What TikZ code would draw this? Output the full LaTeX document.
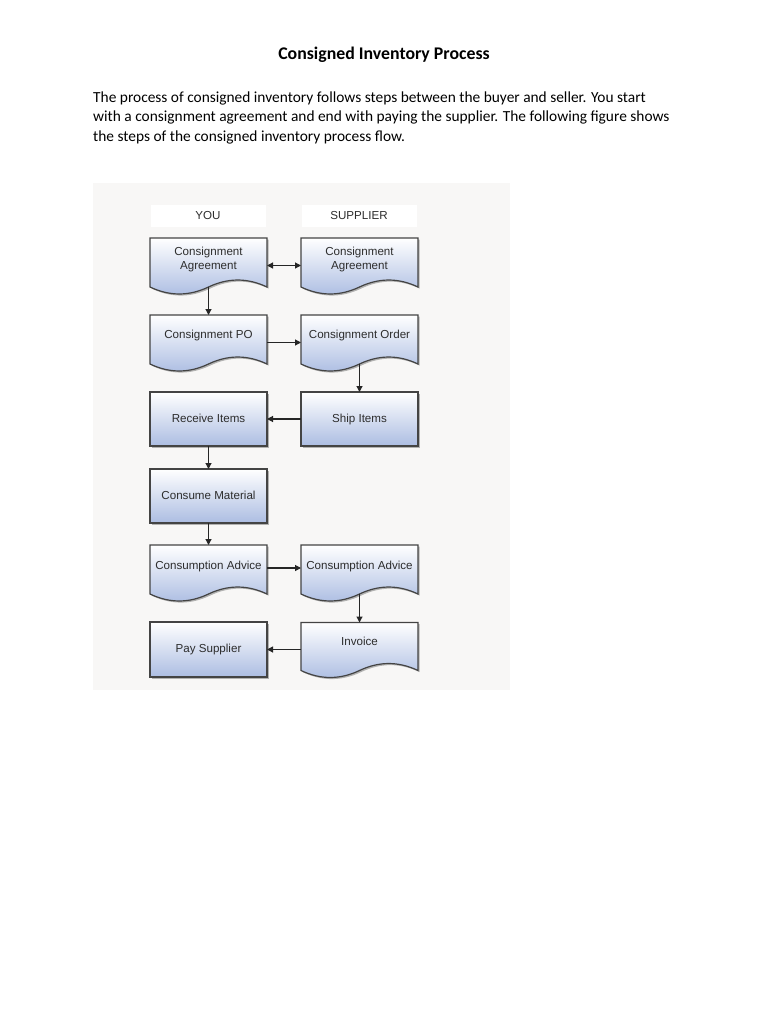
\documentclass[tikz,border=0pt]{standalone}
\usepackage{fontspec}
\setmainfont{Carlito}
\newfontfamily\arialfont{Liberation Sans}
\usetikzlibrary{arrows.meta,calc}
\definecolor{bgray}{RGB}{248,247,246}
\definecolor{edge}{RGB}{68,68,68}
\definecolor{docblue}{RGB}{172,189,226}
\definecolor{txt}{RGB}{45,45,45}
\newcommand\docpath[1]{(#1.north west) -- (#1.north east) -- (#1.south east)
  .. controls ($(#1.south east)+(-19.5,-9.3)$) and ($(#1.south east)+(-39,-9.3)$) .. ($(#1.south east)+(-58.5,0)$)
  .. controls ($(#1.south east)+(-78,9.3)$) and ($(#1.south east)+(-97.5,9.3)$) .. (#1.south west) -- cycle}
\newcommand\rectpath[1]{(#1.north west) -- (#1.north east) -- (#1.south east) -- (#1.south west) -- cycle}
\tikzset{
  shadowstyle/.style={fill=black, opacity=0.28, transform canvas={xshift=1.6pt,yshift=-1.6pt}},
  boxshade/.style={top color=white, bottom color=docblue},
  boxedge/.style={draw=edge, line width=1.2pt, line join=miter},
  shapebox/.style={minimum width=117, minimum height=#1, inner sep=0, outer sep=0,
    font=\arialfont\fontsize{11.6}{13.3}\selectfont, text=txt, align=center},
  label/.style={inner sep=0, outer sep=0, text height=8.5, text depth=2.5,
    font=\arialfont\fontsize{11.6}{13.3}\selectfont, text=txt, align=center},
  label2/.style={inner sep=0, outer sep=0,
    font=\arialfont\fontsize{11.6}{13.3}\selectfont, text=txt, align=center},
  header/.style={fill=white, minimum width=115, minimum height=22, inner sep=0,
    font=\arialfont\fontsize{11.6}{13.3}\selectfont, text=txt},
  flow/.style={draw=black!85, line width=1.1pt, -{Triangle[length=6,width=6]}},
  bothflow/.style={draw=black!85, line width=1.1pt, {Triangle[length=6,width=6]}-{Triangle[length=6,width=6]}},
  bodytext/.style={anchor=base west, inner sep=0, font=\fontsize{15.4}{18}\selectfont}
}
\newcommand\drawdoc[1]{%
  \fill[shadowstyle] \docpath{#1};
  \shade[boxshade] \docpath{#1};
  \draw[boxedge] \docpath{#1};}
\newcommand\drawrect[1]{%
  \fill[shadowstyle] \rectpath{#1};
  \shade[boxshade] \rectpath{#1};
  \draw[boxedge] \rectpath{#1};}
\begin{document}
\begin{tikzpicture}[x=1pt,y=-1pt]
\useasboundingbox (0,0) rectangle (768,1024);
\fill[white] (0,0) rectangle (768,1024);
% text
\node[anchor=base, inner sep=0, font=\bfseries\fontsize{17.8}{20}\selectfont] (title) at (384,60) {Consigned Inventory Process};
\node[bodytext] (l1) at (93,102.5) {The process of consigned inventory follows steps between the buyer and seller. You start};
\node[bodytext] (l2) at (93,122) {with a consignment agreement and end with paying the supplier. The following figure shows};
\node[bodytext] (l3) at (93,141.5) {the steps of the consigned inventory process flow.};
% diagram background
\fill[bgray] (93,183) rectangle (510,690);
\node[header] (you) at (208,216) {YOU};
\node[header] (sup) at (359,216) {SUPPLIER};
% shape nodes
\node[shapebox=49] (a1) at (208.5,262.5) {};
\node[shapebox=49] (a2) at (359.5,262.5) {};
\node[shapebox=49] (po) at (208.5,339.5) {};
\node[shapebox=49] (ord) at (359.5,339.5) {};
\node[shapebox=54] (rcv) at (208.5,419) {};
\node[shapebox=54] (ship) at (359.5,419) {};
\node[shapebox=54] (cons) at (208.5,496) {};
\node[shapebox=49] (ca1) at (208.5,569.5) {};
\node[shapebox=49] (ca2) at (359.5,569.5) {};
\node[shapebox=55] (pay) at (208.5,649.5) {};
\node[shapebox=48] (inv) at (359.5,646.5) {};
\drawdoc{a1}\drawdoc{a2}\drawdoc{po}\drawdoc{ord}
\drawrect{rcv}\drawrect{ship}\drawrect{cons}
\drawdoc{ca1}\drawdoc{ca2}\drawrect{pay}\drawdoc{inv}
% texts
\node[label2] (ta1) at ($(a1.north)+(0,21.5)$) {Consignment\\Agreement};
\node[label2] (ta2) at ($(a2.north)+(0,21.5)$) {Consignment\\Agreement};
\node[label] (tpo) at ($(po.north)+(0,20.5)$) {Consignment PO};
\node[label] (tord) at ($(ord.north)+(0,20.5)$) {Consignment Order};
\node[label] (trcv) at (rcv.center) {Receive Items};
\node[label] (tship) at (ship.center) {Ship Items};
\node[label] (tcons) at (cons.center) {Consume Material};
\node[label] (tca1) at ($(ca1.north)+(0,21)$) {Consumption Advice};
\node[label] (tca2) at ($(ca2.north)+(0,21)$) {Consumption Advice};
\node[label] (tpay) at (pay.center) {Pay Supplier};
\node[label] (tinv) at ($(inv.north)+(0,19.5)$) {Invoice};
% connectors
\draw[bothflow] ($(a1.east)+(0,3)$) -- ($(a2.west)+(0,3)$);
\draw[flow] (a1.south) -- (po.north);
\draw[flow] ($(po.east)+(0,3)$) -- ($(ord.west)+(0,3)$);
\draw[flow] (ord.south) -- (ship.north);
\draw[flow] (ship.west) -- (rcv.east);
\draw[flow] (rcv.south) -- (cons.north);
\draw[flow] (cons.south) -- (ca1.north);
\draw[flow] ($(ca1.east)+(0,-1.5)$) -- ($(ca2.west)+(0,-1.5)$);
\draw[flow] (ca2.south) -- (inv.north);
\draw[flow] (inv.west |- pay.east) -- (pay.east);
\end{tikzpicture}
\end{document}
